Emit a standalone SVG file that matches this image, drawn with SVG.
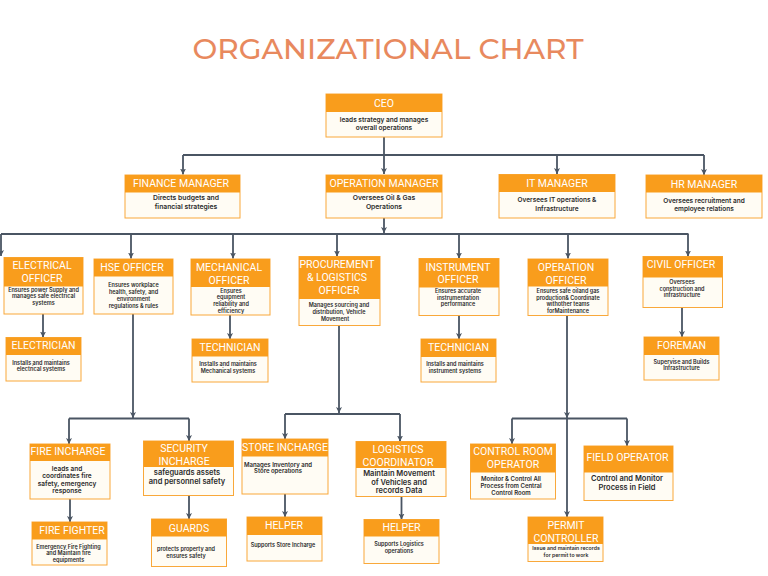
<svg xmlns="http://www.w3.org/2000/svg" width="768" height="576" viewBox="0 0 768 576">
<defs>
<marker id="ah" markerUnits="userSpaceOnUse" markerWidth="7" markerHeight="7" refX="6" refY="3.5" orient="auto">
<path d="M0,0.5 L6,3.5 L0,6.5 L1.5,3.5 z" fill="#4A5563"/>
</marker>
<style>
.hd{fill:#F99D1C}
.bd{fill:#FFFCF4;stroke:#F9A83A;stroke-width:1}
.t{font-family:Roboto,"Liberation Sans",sans-serif;font-size:10.5px;fill:#ffffff;text-anchor:middle}
.d{font-family:Inter,"Liberation Sans",sans-serif;font-weight:600;fill:#2b2b2b;text-anchor:middle}
.c{stroke:#4A5563;stroke-width:1.8;fill:none}
.a{marker-end:url(#ah)}
</style>
</defs>
<rect width="768" height="576" fill="#ffffff"/>
<text x="388" y="59" font-family="Montserrat,'Open Sans',sans-serif" font-weight="500" font-size="27" fill="#E8895E" text-anchor="middle" textLength="391" lengthAdjust="spacingAndGlyphs">ORGANIZATIONAL CHART</text>

<g id="connectors">
<path class="c a" d="M384,137 V174"/>
<path class="c" d="M183,155 H704"/>
<path class="c a" d="M183,155 V174.5"/>
<path class="c a" d="M557,155 V174"/>
<path class="c a" d="M704,155 V175"/>
<path class="c a" d="M384,218 V233"/>
<path class="c" d="M1,234 H688.5"/>
<path class="c a" d="M1,234 V256"/>
<path class="c a" d="M131,234 V258.5"/>
<path class="c a" d="M233,234 V258.5"/>
<path class="c a" d="M337,234 V256.5"/>
<path class="c a" d="M459,234 V258.5"/>
<path class="c a" d="M568,234 V258.5"/>
<path class="c a" d="M688,234 V256.5"/>
<path class="c a" d="M43,314 V337.5"/>
<path class="c a" d="M230,315 V339"/>
<path class="c a" d="M459,315.5 V339"/>
<path class="c a" d="M682,307.5 V337"/>
<path class="c a" d="M133,314 V418"/>
<path class="c" d="M69,418.5 H189"/>
<path class="c a" d="M69,418.5 V444"/>
<path class="c a" d="M189,418.5 V441"/>
<path class="c a" d="M70,499 V522"/>
<path class="c a" d="M189,495 V519"/>
<path class="c a" d="M339,325.5 V413"/>
<path class="c" d="M285,414 H400"/>
<path class="c a" d="M285,414 V439"/>
<path class="c a" d="M400,414 V441.5"/>
<path class="c a" d="M285,494 V517"/>
<path class="c a" d="M401.5,496.5 V519.5"/>
<path class="c a" d="M567,315.5 V418"/>
<path class="c" d="M512,418.5 H627"/>
<path class="c a" d="M512,418.5 V444"/>
<path class="c a" d="M627,418.5 V446"/>
<path class="c a" d="M567,418 V517"/>
</g>

<g id="ceo"><rect class="bd" x="326" y="94" width="116" height="43"/><rect class="hd" x="326" y="94" width="116" height="18"/>
<text class="t" x="384" y="107">CEO</text>
<text class="d" font-size="6.5" x="384" y="121.5">leads strategy and manages</text>
<text class="d" font-size="6.5" x="384" y="129.5">overall operations</text></g>

<g id="finance-manager"><rect class="bd" x="125" y="175" width="115" height="43"/><rect class="hd" x="125" y="175" width="115" height="17.5"/>
<text class="t" x="181" y="187">FINANCE MANAGER</text>
<text class="d" font-size="6.8" x="186" y="200">Directs budgets and</text>
<text class="d" font-size="6.8" x="186" y="209">financial strategies</text></g>

<g id="operation-manager"><rect class="bd" x="326" y="175" width="116" height="43"/><rect class="hd" x="326" y="175" width="116" height="17.5"/>
<text class="t" x="384" y="187">OPERATION MANAGER</text>
<text class="d" font-size="6.8" x="384" y="200">Oversees Oil &amp; Gas</text>
<text class="d" font-size="6.8" x="384" y="209">Operations</text></g>

<g id="it-manager"><rect class="bd" x="499" y="174.5" width="116" height="43.5"/><rect class="hd" x="499" y="174.5" width="116" height="17.5"/>
<text class="t" x="557" y="186.5">IT MANAGER</text>
<text class="d" font-size="6.5" x="557" y="202.3">Oversees IT operations &amp;</text>
<text class="d" font-size="6.5" x="557" y="211">Infrastructure</text></g>

<g id="hr-manager"><rect class="bd" x="646" y="175" width="116" height="43"/><rect class="hd" x="646" y="175" width="116" height="17.5"/>
<text class="t" x="704" y="187.7">HR MANAGER</text>
<text class="d" font-size="6.5" x="704" y="203.3">Oversees recruitment and</text>
<text class="d" font-size="6.5" x="704" y="211.3">employee relations</text></g>

<g id="electrical-officer"><rect class="bd" x="4" y="257.5" width="79" height="56.5"/><rect class="hd" x="4" y="257.5" width="79" height="29"/>
<text class="t" x="42" y="268.7">ELECTRICAL</text><text class="t" x="42" y="281.7">OFFICER</text>
<text class="d" font-size="5.5" x="43.5" y="292">Ensures power Supply and</text>
<text class="d" font-size="5.5" x="43.5" y="298">manages safe electrical</text>
<text class="d" font-size="5.5" x="43.5" y="305">systems</text></g>

<g id="hse-officer"><rect class="bd" x="94" y="259" width="79" height="55"/><rect class="hd" x="94" y="259" width="79" height="17.5"/>
<text class="t" x="132" y="270.7">HSE OFFICER</text>
<text class="d" font-size="5.5" x="133.5" y="287">Ensures workplace</text>
<text class="d" font-size="5.5" x="133.5" y="294">health, safety, and</text>
<text class="d" font-size="5.5" x="133.5" y="301">environment</text>
<text class="d" font-size="5.5" x="133.5" y="307.5">regulations &amp; rules</text></g>

<g id="mechanical-officer"><rect class="bd" x="191" y="259" width="79" height="56"/><rect class="hd" x="191" y="259" width="79" height="28"/>
<text class="t" x="229" y="270.7">MECHANICAL</text><text class="t" x="229" y="283.7">OFFICER</text>
<text class="d" font-size="5.5" x="231" y="293">Ensures</text>
<text class="d" font-size="5.5" x="231" y="299">equipment</text>
<text class="d" font-size="5.5" x="231" y="306">reliability and</text>
<text class="d" font-size="5.5" x="231" y="312.7">efficiency</text></g>

<g id="electrician"><rect class="bd" x="6" y="337.5" width="75" height="43.5"/><rect class="hd" x="6" y="337.5" width="75" height="17.5"/>
<text class="t" x="43.5" y="349.4">ELECTRICIAN</text>
<text class="d" font-size="5.5" x="41" y="364.7">Installs and maintains</text>
<text class="d" font-size="5.5" x="41" y="370.7">electrical systems</text></g>

<g id="technician-mechanical"><rect class="bd" x="192" y="339" width="76" height="43"/><rect class="hd" x="192" y="339" width="76" height="17.5"/>
<text class="t" x="230" y="351">TECHNICIAN</text>
<text class="d" font-size="5.5" x="228" y="366">Installs and maintains</text>
<text class="d" font-size="5.5" x="228" y="373">Mechanical systems</text></g>

<g id="procurement-logistics-officer"><rect class="bd" x="299" y="256.5" width="81" height="69"/><rect class="hd" x="299" y="256.5" width="81" height="42.5"/>
<text class="t" x="337" y="268">PROCUREMENT</text><text class="t" x="337" y="281">&amp; LOGISTICS</text><text class="t" x="339" y="294.4">OFFICER</text>
<text class="d" font-size="5.5" x="339" y="307.3">Manages sourcing and</text>
<text class="d" font-size="5.5" x="339" y="314">distribution, Vehicle</text>
<text class="d" font-size="5.5" x="335" y="321">Movement</text></g>

<g id="instrument-officer"><rect class="bd" x="419" y="258.5" width="80" height="57"/><rect class="hd" x="419" y="258.5" width="80" height="29"/>
<text class="t" x="458" y="271.4">INSTRUMENT</text><text class="t" x="458" y="283.4">OFFICER</text>
<text class="d" font-size="5.5" x="458" y="293.3">Ensures accurate</text>
<text class="d" font-size="5.5" x="458" y="300">instrumentation</text>
<text class="d" font-size="5.5" x="458" y="306">performance</text></g>

<g id="technician-instrument"><rect class="bd" x="421" y="339" width="75" height="43"/><rect class="hd" x="421" y="339" width="75" height="18"/>
<text class="t" x="458.5" y="351">TECHNICIAN</text>
<text class="d" font-size="5.5" x="455" y="366">Installs and maintains</text>
<text class="d" font-size="5.5" x="455" y="373">instrument systems</text></g>

<g id="operation-officer"><rect class="bd" x="528" y="259" width="80" height="56.5"/><rect class="hd" x="528" y="259" width="80" height="27.5"/>
<text class="t" x="566" y="271.4">OPERATION</text><text class="t" x="566" y="283.7">OFFICER</text>
<text class="d" font-size="5.5" x="568" y="293.3">Ensures safe oiland gas</text>
<text class="d" font-size="5.5" x="568" y="300">production&amp; Coordinate</text>
<text class="d" font-size="5.5" x="568" y="306.3">withother teams</text>
<text class="d" font-size="5.5" x="568" y="313">forMaintenance</text></g>

<g id="civil-officer"><rect class="bd" x="643" y="256.5" width="79.5" height="51"/><rect class="hd" x="643" y="256.5" width="79.5" height="21"/>
<text class="t" x="681" y="268">CIVIL OFFICER</text>
<text class="d" font-size="5.5" x="682" y="284.3">Oversees</text>
<text class="d" font-size="5.5" x="682" y="291">construction and</text>
<text class="d" font-size="5.5" x="682" y="297">infrastructure</text></g>

<g id="foreman"><rect class="bd" x="644" y="337" width="75" height="43"/><rect class="hd" x="644" y="337" width="75" height="18"/>
<text class="t" x="681.5" y="349.4">FOREMAN</text>
<text class="d" font-size="5.5" x="681.5" y="364">Supervise and Builds</text>
<text class="d" font-size="5.5" x="681.5" y="369.7">Infrastructure</text></g>

<g id="fire-incharge"><rect class="bd" x="30" y="444" width="80" height="55"/><rect class="hd" x="30" y="444" width="80" height="17"/>
<text class="t" x="68" y="455.4">FIRE INCHARGE</text>
<text class="d" font-size="6.5" x="67" y="471.3">leads and</text>
<text class="d" font-size="6.5" x="67" y="478.3">coordinates fire</text>
<text class="d" font-size="6.5" x="67" y="485.6">safety, emergency</text>
<text class="d" font-size="6.5" x="67" y="493">response</text></g>

<g id="security-incharge"><rect class="bd" x="143.5" y="441" width="90" height="54.5"/><rect class="hd" x="143.5" y="441" width="90" height="26"/>
<text class="t" x="184" y="452.4">SECURITY</text><text class="t" x="184" y="465">INCHARGE</text>
<text class="d" font-size="7.5" x="187" y="474.7">safeguards assets</text>
<text class="d" font-size="7.5" x="187" y="484">and personnel safety</text></g>

<g id="fire-fighter"><rect class="bd" x="32" y="522" width="75" height="43"/><rect class="hd" x="32" y="522" width="75" height="17.5"/>
<text class="t" x="72" y="534">FIRE FIGHTER</text>
<text class="d" font-size="5.5" x="68.5" y="549">Emergency Fire Fighting</text>
<text class="d" font-size="5.5" x="68.5" y="555.3">and Maintain fire</text>
<text class="d" font-size="5.5" x="68.5" y="562">equipments</text></g>

<g id="guards"><rect class="bd" x="151.5" y="519" width="75" height="47.5"/><rect class="hd" x="151.5" y="519" width="75" height="17.5"/>
<text class="t" x="189" y="532">GUARDS</text>
<text class="d" font-size="5.5" x="186" y="551.3">protects property and</text>
<text class="d" font-size="5.5" x="186" y="558">ensures safety</text></g>

<g id="store-incharge"><rect class="bd" x="242" y="439" width="86" height="55"/><rect class="hd" x="242" y="439" width="86" height="17.5"/>
<text class="t" x="285" y="451.4">STORE INCHARGE</text>
<text class="d" font-size="6" x="278" y="466.8">Manages Inventory and</text>
<text class="d" font-size="6" x="278" y="473.4">Store operations</text></g>

<g id="logistics-coordinator"><rect class="bd" x="356" y="441.5" width="90" height="55"/><rect class="hd" x="356" y="441.5" width="90" height="26.5"/>
<text class="t" x="398" y="453">LOGISTICS</text><text class="t" x="398" y="466">COORDINATOR</text>
<text class="d" font-size="7.5" x="399" y="476">Maintain Movement</text>
<text class="d" font-size="7.5" x="399" y="484.7">of Vehicles and</text>
<text class="d" font-size="7.5" x="399" y="493">records Data</text></g>

<g id="helper-store"><rect class="bd" x="247" y="517" width="75" height="44"/><rect class="hd" x="247" y="517" width="75" height="18"/>
<text class="t" x="284" y="529.4">HELPER</text>
<text class="d" font-size="5.5" x="283" y="547">Supports Store Incharge</text></g>

<g id="helper-logistics"><rect class="bd" x="364" y="519.5" width="75" height="44"/><rect class="hd" x="364" y="519.5" width="75" height="17"/>
<text class="t" x="401.5" y="531.4">HELPER</text>
<text class="d" font-size="5.5" x="399" y="546">Supports Logistics</text>
<text class="d" font-size="5.5" x="399" y="553">operations</text></g>

<g id="control-room-operator"><rect class="bd" x="470.5" y="444" width="85" height="55"/><rect class="hd" x="470.5" y="444" width="85" height="28.5"/>
<text class="t" x="513" y="455.4">CONTROL ROOM</text><text class="t" x="513" y="468">OPERATOR</text>
<text class="d" font-size="6" x="511" y="481">Monitor &amp; Control All</text>
<text class="d" font-size="6" x="511" y="487.8">Process from Central</text>
<text class="d" font-size="6" x="511" y="495.4">Control Room</text></g>

<g id="field-operator"><rect class="bd" x="584" y="446" width="89" height="54.5"/><rect class="hd" x="584" y="446" width="89" height="26.5"/>
<text class="t" x="627.5" y="461.4">FIELD OPERATOR</text>
<text class="d" font-size="7.5" x="627" y="481">Control and Monitor</text>
<text class="d" font-size="7.5" x="627" y="490">Process in Field</text></g>

<g id="permit-controller"><rect class="bd" x="528" y="517" width="75" height="44.5"/><rect class="hd" x="528" y="517" width="75" height="27"/>
<text class="t" x="566" y="529.4">PERMIT</text><text class="t" x="566" y="542.4">CONTROLLER</text>
<text class="d" font-size="5.2" x="566" y="550">Issue and maintain records</text>
<text class="d" font-size="5.2" x="566" y="556.7">for permit to work</text></g>
</svg>
